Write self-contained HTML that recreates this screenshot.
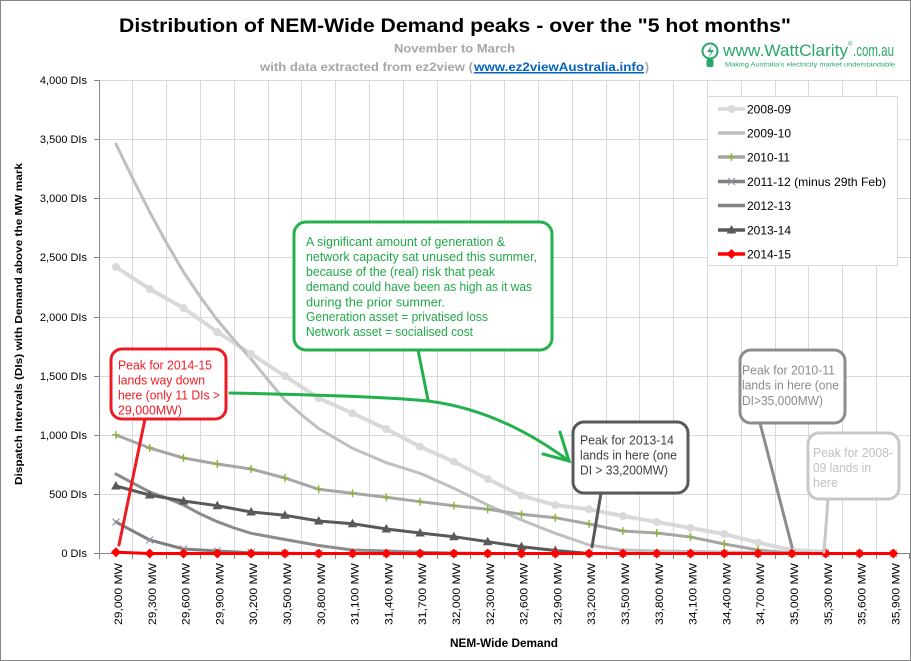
<!DOCTYPE html>
<html><head><meta charset="utf-8"><style>
html,body{margin:0;padding:0;background:#fff}
svg{display:block}
text{font-family:"Liberation Sans",Arial,sans-serif}
</style></head><body>
<svg width="911" height="661" viewBox="0 0 911 661" xmlns="http://www.w3.org/2000/svg">
<defs>
<path id="dia" d="M0,-5L5,0L0,5L-5,0Z" fill="#ff0000"/>
<circle id="cir" r="4" fill="#d9d9d9"/>
<path id="pls" d="M-4,0H4M0,-4V4" stroke="#8cb43c" stroke-width="1.4" fill="none"/>
<path id="crs" d="M-3.5,-3.5L3.5,3.5M-3.5,3.5L3.5,-3.5" stroke="#9090a4" stroke-width="1.2" fill="none"/>
<path id="tri" d="M0,-5L4.8,3.5L-4.8,3.5Z" fill="#595959"/>
</defs>
<rect x="0.5" y="0.5" width="910" height="660" fill="#fff" stroke="#868686"/>

<!-- title -->
<text x="119" y="32" font-size="19" font-weight="bold" textLength="672" lengthAdjust="spacingAndGlyphs">Distribution of NEM-Wide Demand peaks - over the "5 hot months"</text>
<text x="394" y="52.5" font-size="12" font-weight="bold" fill="#a6a6a6" textLength="121" lengthAdjust="spacingAndGlyphs">November to March</text>
<text x="260" y="71" font-size="12" font-weight="bold" fill="#a6a6a6" textLength="213" lengthAdjust="spacingAndGlyphs">with data extracted from ez2view (</text>
<text x="474" y="71" font-size="12" font-weight="bold" fill="#0563c1" text-decoration="underline" textLength="170" lengthAdjust="spacingAndGlyphs">www.ez2viewAustralia.info</text>
<line x1="474" y1="73" x2="644" y2="73" stroke="#0563c1" stroke-width="1"/>
<text x="645" y="71" font-size="12" font-weight="bold" fill="#a6a6a6">)</text>

<!-- logo -->
<circle cx="710" cy="51" r="7.5" fill="none" stroke="#2aa66a" stroke-width="2"/>
<path d="M712,45L707,52L711,52L708,58L714,50L710,50Z" fill="#2aa66a"/>
<rect x="706.5" y="59" width="7" height="8" rx="2" fill="#2aa66a"/>
<text x="723" y="56" font-size="17" fill="#2aa66a" textLength="125" lengthAdjust="spacingAndGlyphs">www.WattClarity</text>
<text x="848" y="46" font-size="6" fill="#2aa66a">®</text>
<text x="853" y="56" font-size="17" fill="#2aa66a" textLength="41" lengthAdjust="spacingAndGlyphs">.com.au</text>
<text x="725" y="66.5" font-size="6" fill="#2aa66a" textLength="170" lengthAdjust="spacingAndGlyphs">Making Australia's electricity market understandable</text>

<!-- gridlines -->
<path fill="none" stroke="#d9d9d9" stroke-width="1" d="M132.5 80V553M166.5 80V553M200.5 80V553M234.5 80V553M268.5 80V553M301.5 80V553M335.5 80V553M369.5 80V553M403.5 80V553M437.5 80V553M470.5 80V553M504.5 80V553M538.5 80V553M572.5 80V553M606.5 80V553M639.5 80V553M673.5 80V553M707.5 80V553M741.5 80V553M775.5 80V553M808.5 80V553M842.5 80V553M876.5 80V553M99 80.5H910M99 139.5H910M99 198.5H910M99 257.5H910M99 317.5H910M99 376.5H910M99 435.5H910M99 494.5H910"/>

<!-- axes -->
<path fill="none" stroke="#868686" stroke-width="1" d="M99.5 80V554M99 553.5H910M94 80.5H99M94 139.5H99M94 198.5H99M94 257.5H99M94 317.5H99M94 376.5H99M94 435.5H99M94 494.5H99M94 553.5H99M99.5 553V559M132.5 553V559M166.5 553V559M200.5 553V559M234.5 553V559M268.5 553V559M301.5 553V559M335.5 553V559M369.5 553V559M403.5 553V559M437.5 553V559M470.5 553V559M504.5 553V559M538.5 553V559M572.5 553V559M606.5 553V559M639.5 553V559M673.5 553V559M707.5 553V559M741.5 553V559M775.5 553V559M808.5 553V559M842.5 553V559M876.5 553V559M909.5 553V559"/>

<!-- y tick labels -->
<g font-size="11" text-anchor="end" fill="#000">
<text x="87" y="84">4,000 DIs</text>
<text x="87" y="143">3,500 DIs</text>
<text x="87" y="202">3,000 DIs</text>
<text x="87" y="261">2,500 DIs</text>
<text x="87" y="321">2,000 DIs</text>
<text x="87" y="380">1,500 DIs</text>
<text x="87" y="439">1,000 DIs</text>
<text x="87" y="498">500 DIs</text>
<text x="87" y="557">0 DIs</text>
</g>

<!-- x tick labels -->
<g font-size="11" text-anchor="end" fill="#000">
<text transform="translate(122,563) rotate(-90)" textLength="62" lengthAdjust="spacingAndGlyphs">29,000 MW</text>
<text transform="translate(155.8,563) rotate(-90)" textLength="62" lengthAdjust="spacingAndGlyphs">29,300 MW</text>
<text transform="translate(189.6,563) rotate(-90)" textLength="62" lengthAdjust="spacingAndGlyphs">29,600 MW</text>
<text transform="translate(223.4,563) rotate(-90)" textLength="62" lengthAdjust="spacingAndGlyphs">29,900 MW</text>
<text transform="translate(257.2,563) rotate(-90)" textLength="62" lengthAdjust="spacingAndGlyphs">30,200 MW</text>
<text transform="translate(291,563) rotate(-90)" textLength="62" lengthAdjust="spacingAndGlyphs">30,500 MW</text>
<text transform="translate(324.8,563) rotate(-90)" textLength="62" lengthAdjust="spacingAndGlyphs">30,800 MW</text>
<text transform="translate(358.6,563) rotate(-90)" textLength="62" lengthAdjust="spacingAndGlyphs">31,100 MW</text>
<text transform="translate(392.4,563) rotate(-90)" textLength="62" lengthAdjust="spacingAndGlyphs">31,400 MW</text>
<text transform="translate(426.2,563) rotate(-90)" textLength="62" lengthAdjust="spacingAndGlyphs">31,700 MW</text>
<text transform="translate(460,563) rotate(-90)" textLength="62" lengthAdjust="spacingAndGlyphs">32,000 MW</text>
<text transform="translate(493.8,563) rotate(-90)" textLength="62" lengthAdjust="spacingAndGlyphs">32,300 MW</text>
<text transform="translate(527.6,563) rotate(-90)" textLength="62" lengthAdjust="spacingAndGlyphs">32,600 MW</text>
<text transform="translate(561.4,563) rotate(-90)" textLength="62" lengthAdjust="spacingAndGlyphs">32,900 MW</text>
<text transform="translate(595.2,563) rotate(-90)" textLength="62" lengthAdjust="spacingAndGlyphs">33,200 MW</text>
<text transform="translate(629,563) rotate(-90)" textLength="62" lengthAdjust="spacingAndGlyphs">33,500 MW</text>
<text transform="translate(662.8,563) rotate(-90)" textLength="62" lengthAdjust="spacingAndGlyphs">33,800 MW</text>
<text transform="translate(696.6,563) rotate(-90)" textLength="62" lengthAdjust="spacingAndGlyphs">34,100 MW</text>
<text transform="translate(730.4,563) rotate(-90)" textLength="62" lengthAdjust="spacingAndGlyphs">34,400 MW</text>
<text transform="translate(764.2,563) rotate(-90)" textLength="62" lengthAdjust="spacingAndGlyphs">34,700 MW</text>
<text transform="translate(798,563) rotate(-90)" textLength="62" lengthAdjust="spacingAndGlyphs">35,000 MW</text>
<text transform="translate(831.8,563) rotate(-90)" textLength="62" lengthAdjust="spacingAndGlyphs">35,300 MW</text>
<text transform="translate(865.6,563) rotate(-90)" textLength="62" lengthAdjust="spacingAndGlyphs">35,600 MW</text>
<text transform="translate(899.4,563) rotate(-90)" textLength="62" lengthAdjust="spacingAndGlyphs">35,900 MW</text>
</g>

<!-- axis titles -->
<text x="450" y="647" font-size="12" font-weight="bold" textLength="108" lengthAdjust="spacingAndGlyphs">NEM-Wide Demand</text>
<text transform="translate(22,324) rotate(-90)" font-size="10.5" font-weight="bold" text-anchor="middle" textLength="322" lengthAdjust="spacingAndGlyphs">Dispatch Intervals (DIs) with Demand above the MW mark</text>

<!-- series -->
<g fill="none" stroke-linejoin="round" stroke-linecap="round">
<polyline stroke="#d9d9d9" stroke-width="4" points="115.9,267 149.7,289 183.5,308 217.3,332 251.1,354 284.9,376 318.7,398 352.5,413.3 386.3,429 420.1,446.7 453.9,461.7 487.7,479 521.5,495.7 555.3,505 589.1,509.3 622.9,516 656.7,522 690.5,528 724.3,534 758.1,542.7 791.9,550 825.7,551.7"/>
<polyline stroke="#bfbfbf" stroke-width="3" points="115.9,144 133,179 149.7,212 166.6,243 183.5,272 200.4,297 217.3,320 234.2,340 251.1,359 268,380 284.9,400 301.8,415 318.7,428.5 352.5,448.3 386.3,462.7 420.1,473.3 453.9,488.3 487.7,505 521.5,520 555.3,533.3 589.1,545 622.9,550 656.7,551 690.5,551.5 724.3,552 758.1,552.5 791.9,553 825.7,553.5"/>
<polyline stroke="#a6a6a6" stroke-width="3" points="115.9,435 149.7,448 183.5,458 217.3,464 251.1,469 284.9,478 318.7,489.3 352.5,493.3 386.3,497.3 420.1,501.7 453.9,505.7 487.7,509.3 521.5,514.3 555.3,517.7 589.1,524 622.9,531 656.7,533 690.5,537 724.3,544 758.1,550 791.9,553 825.7,553.5"/>
<polyline stroke="#808080" stroke-width="3" points="115.9,522 149.7,540 183.5,549 217.3,551 251.1,552.7 284.9,553.2 318.7,553.5 893.3,553.5"/>
<polyline stroke="#8c8c8c" stroke-width="3" points="115.9,474 149.7,492 166.6,498 183.5,505 200.4,514 217.3,521.7 234.2,528 251.1,533.3 284.9,539.5 318.7,545.5 352.5,550 386.3,551 420.1,552.3 453.9,553 487.7,553.5"/>
<polyline stroke="#595959" stroke-width="3" points="115.9,486 149.7,495 183.5,501 217.3,505.7 251.1,512 284.9,515.3 318.7,521 352.5,523.7 386.3,529 420.1,533 453.9,536.7 487.7,541.7 521.5,546.7 555.3,550.5 589.1,553.5"/>
</g>
<!-- markers -->
<g>
<use href="#cir" x="115.9" y="267"/><use href="#cir" x="149.7" y="289"/><use href="#cir" x="183.5" y="308"/><use href="#cir" x="217.3" y="332"/><use href="#cir" x="251.1" y="354"/><use href="#cir" x="284.9" y="376"/><use href="#cir" x="318.7" y="398"/><use href="#cir" x="352.5" y="413.3"/><use href="#cir" x="386.3" y="429"/><use href="#cir" x="420.1" y="446.7"/><use href="#cir" x="453.9" y="461.7"/><use href="#cir" x="487.7" y="479"/><use href="#cir" x="521.5" y="495.7"/><use href="#cir" x="555.3" y="505"/><use href="#cir" x="589.1" y="509.3"/><use href="#cir" x="622.9" y="516"/><use href="#cir" x="656.7" y="522"/><use href="#cir" x="690.5" y="528"/><use href="#cir" x="724.3" y="534"/><use href="#cir" x="758.1" y="542.7"/><use href="#cir" x="791.9" y="550"/><use href="#cir" x="825.7" y="551.7"/>
<use href="#pls" x="115.9" y="435"/><use href="#pls" x="149.7" y="448"/><use href="#pls" x="183.5" y="458"/><use href="#pls" x="217.3" y="464"/><use href="#pls" x="251.1" y="469"/><use href="#pls" x="284.9" y="478"/><use href="#pls" x="318.7" y="489.3"/><use href="#pls" x="352.5" y="493.3"/><use href="#pls" x="386.3" y="497.3"/><use href="#pls" x="420.1" y="501.7"/><use href="#pls" x="453.9" y="505.7"/><use href="#pls" x="487.7" y="509.3"/><use href="#pls" x="521.5" y="514.3"/><use href="#pls" x="555.3" y="517.7"/><use href="#pls" x="589.1" y="524"/><use href="#pls" x="622.9" y="531"/><use href="#pls" x="656.7" y="533"/><use href="#pls" x="690.5" y="537"/><use href="#pls" x="724.3" y="544"/><use href="#pls" x="758.1" y="550"/>
<use href="#crs" x="115.9" y="522"/><use href="#crs" x="149.7" y="540"/><use href="#crs" x="183.5" y="549"/><use href="#crs" x="217.3" y="551"/><use href="#crs" x="251.1" y="552.7"/><use href="#crs" x="284.9" y="553.2"/><use href="#crs" x="318.7" y="553.5"/><use href="#crs" x="352.5" y="553.5"/><use href="#crs" x="386.3" y="553.5"/><use href="#crs" x="420.1" y="553.5"/><use href="#crs" x="453.9" y="553.5"/><use href="#crs" x="487.7" y="553.5"/><use href="#crs" x="521.5" y="553.5"/><use href="#crs" x="555.3" y="553.5"/><use href="#crs" x="589.1" y="553.5"/><use href="#crs" x="622.9" y="553.5"/><use href="#crs" x="656.7" y="553.5"/><use href="#crs" x="690.5" y="553.5"/><use href="#crs" x="724.3" y="553.5"/><use href="#crs" x="758.1" y="553.5"/><use href="#crs" x="791.9" y="553.5"/><use href="#crs" x="825.7" y="553.5"/><use href="#crs" x="859.5" y="553.5"/><use href="#crs" x="893.3" y="553.5"/>
<use href="#tri" x="115.9" y="486"/><use href="#tri" x="149.7" y="495"/><use href="#tri" x="183.5" y="501"/><use href="#tri" x="217.3" y="505.7"/><use href="#tri" x="251.1" y="512"/><use href="#tri" x="284.9" y="515.3"/><use href="#tri" x="318.7" y="521"/><use href="#tri" x="352.5" y="523.7"/><use href="#tri" x="386.3" y="529"/><use href="#tri" x="420.1" y="533"/><use href="#tri" x="453.9" y="536.7"/><use href="#tri" x="487.7" y="541.7"/><use href="#tri" x="521.5" y="546.7"/><use href="#tri" x="555.3" y="550.5"/>
</g>
<polyline fill="none" stroke="#ff0000" stroke-width="3" points="115.9,552.2 149.7,553.5 893.3,553.5"/>
<g>
<use href="#dia" x="115.9" y="552.2"/><use href="#dia" x="149.7" y="553.5"/><use href="#dia" x="183.5" y="553.5"/><use href="#dia" x="217.3" y="553.5"/><use href="#dia" x="251.1" y="553.5"/><use href="#dia" x="284.9" y="553.5"/><use href="#dia" x="318.7" y="553.5"/><use href="#dia" x="352.5" y="553.5"/><use href="#dia" x="386.3" y="553.5"/><use href="#dia" x="420.1" y="553.5"/><use href="#dia" x="453.9" y="553.5"/><use href="#dia" x="487.7" y="553.5"/><use href="#dia" x="521.5" y="553.5"/><use href="#dia" x="555.3" y="553.5"/><use href="#dia" x="589.1" y="553.5"/><use href="#dia" x="622.9" y="553.5"/><use href="#dia" x="656.7" y="553.5"/><use href="#dia" x="690.5" y="553.5"/><use href="#dia" x="724.3" y="553.5"/><use href="#dia" x="758.1" y="553.5"/><use href="#dia" x="791.9" y="553.5"/><use href="#dia" x="825.7" y="553.5"/><use href="#dia" x="859.5" y="553.5"/><use href="#dia" x="893.3" y="553.5"/>
</g>

<!-- legend -->
<rect x="707.5" y="96.5" width="190" height="169" fill="#fff" stroke="#d9d9d9"/>
<g stroke-width="3.5" fill="none">
<line x1="718" y1="109" x2="745" y2="109" stroke="#d9d9d9"/>
<line x1="718" y1="133" x2="745" y2="133" stroke="#bfbfbf"/>
<line x1="718" y1="157" x2="745" y2="157" stroke="#a6a6a6"/>
<line x1="718" y1="181.5" x2="745" y2="181.5" stroke="#808080"/>
<line x1="718" y1="205.5" x2="745" y2="205.5" stroke="#808080"/>
<line x1="718" y1="230" x2="745" y2="230" stroke="#595959"/>
<line x1="718" y1="254" x2="745" y2="254" stroke="#ff0000"/>
</g>
<use href="#cir" x="731.5" y="109"/>
<use href="#pls" x="731.5" y="157"/>
<use href="#crs" x="731.5" y="181.5"/>
<use href="#tri" x="731.5" y="230"/>
<use href="#dia" x="731.5" y="254"/>
<g font-size="12" fill="#000">
<text x="747" y="113.5" textLength="44" lengthAdjust="spacingAndGlyphs">2008-09</text>
<text x="747" y="137.5" textLength="44" lengthAdjust="spacingAndGlyphs">2009-10</text>
<text x="747" y="161.5" textLength="43" lengthAdjust="spacingAndGlyphs">2010-11</text>
<text x="747" y="186" textLength="139" lengthAdjust="spacingAndGlyphs">2011-12 (minus 29th Feb)</text>
<text x="747" y="210" textLength="44" lengthAdjust="spacingAndGlyphs">2012-13</text>
<text x="747" y="234.5" textLength="44" lengthAdjust="spacingAndGlyphs">2013-14</text>
<text x="747" y="258.5" textLength="44" lengthAdjust="spacingAndGlyphs">2014-15</text>
</g>

<!-- connectors -->
<g fill="none" stroke-width="3" stroke-linecap="round">
<path d="M230,393 Q380,396 428,401 Q500,410 569,461" stroke="#22b14c"/>
<path d="M418,350 L428,400" stroke="#22b14c"/>
<path d="M560,432 L569,461 L543,454" stroke="#22b14c"/>
<path d="M601,493 L592,547" stroke="#595959"/>
<path d="M760,423 L792,547" stroke="#8c8c8c"/>
<path d="M828,499 L824,552" stroke="#c8c8c8"/>
</g>

<!-- annotation boxes -->
<rect x="294" y="222" width="258" height="128" rx="12" fill="#fff" stroke="#22b14c" stroke-width="3"/>
<g font-size="12.5" fill="#22a84a">
<text x="306" y="246" textLength="199" lengthAdjust="spacingAndGlyphs">A significant amount of generation &amp;</text>
<text x="306" y="261" textLength="231" lengthAdjust="spacingAndGlyphs">network capacity sat unused this summer,</text>
<text x="306" y="276" textLength="189" lengthAdjust="spacingAndGlyphs">because of the (real) risk that peak</text>
<text x="306" y="291" textLength="226" lengthAdjust="spacingAndGlyphs">demand could have been as high as it was</text>
<text x="306" y="306.5" textLength="139" lengthAdjust="spacingAndGlyphs">during the prior summer.</text>
<text x="306" y="321" textLength="182" lengthAdjust="spacingAndGlyphs">Generation asset = privatised loss</text>
<text x="306" y="336" textLength="167" lengthAdjust="spacingAndGlyphs">Network asset = socialised cost</text>
</g>

<rect x="111" y="349" width="115" height="70" rx="11" fill="#fff" stroke="#ed1c24" stroke-width="3"/>
<g font-size="12.5" fill="#ee1c25">
<text x="118" y="369.5" textLength="94" lengthAdjust="spacingAndGlyphs">Peak for 2014-15</text>
<text x="118" y="384.5" textLength="87" lengthAdjust="spacingAndGlyphs">lands way down</text>
<text x="118" y="399.5" textLength="102" lengthAdjust="spacingAndGlyphs">here (only 11 DIs &gt;</text>
<text x="118" y="414.5" textLength="64" lengthAdjust="spacingAndGlyphs">29,000MW)</text>
</g>
<path d="M145,419 L119,545" stroke="#ed1c24" stroke-width="3" fill="none" stroke-linecap="round"/>

<rect x="573" y="422" width="115" height="71" rx="11" fill="#fff" stroke="#595959" stroke-width="3"/>
<g font-size="12.5" fill="#404040">
<text x="580" y="444.5" textLength="94" lengthAdjust="spacingAndGlyphs">Peak for 2013-14</text>
<text x="580" y="459.5" textLength="97" lengthAdjust="spacingAndGlyphs">lands in here (one</text>
<text x="580" y="474.5" textLength="88" lengthAdjust="spacingAndGlyphs">DI &gt; 33,200MW)</text>
</g>

<rect x="740" y="350" width="105" height="73" rx="11" fill="#fff" stroke="#8c8c8c" stroke-width="3"/>
<g font-size="12.5" fill="#8c8c8c">
<text x="742" y="374.5" textLength="93" lengthAdjust="spacingAndGlyphs">Peak for 2010-11</text>
<text x="742" y="389.5" textLength="97" lengthAdjust="spacingAndGlyphs">lands in here (one</text>
<text x="742" y="405" textLength="81" lengthAdjust="spacingAndGlyphs">DI&gt;35,000MW)</text>
</g>

<rect x="808" y="433" width="91" height="66" rx="11" fill="#fff" stroke="#c8c8c8" stroke-width="3"/>
<g font-size="12.5" fill="#c0c0c0">
<text x="813" y="457" textLength="80" lengthAdjust="spacingAndGlyphs">Peak for 2008-</text>
<text x="813" y="472" textLength="58" lengthAdjust="spacingAndGlyphs">09 lands in</text>
<text x="813" y="487" textLength="25" lengthAdjust="spacingAndGlyphs">here</text>
</g>
</svg>
</body></html>
